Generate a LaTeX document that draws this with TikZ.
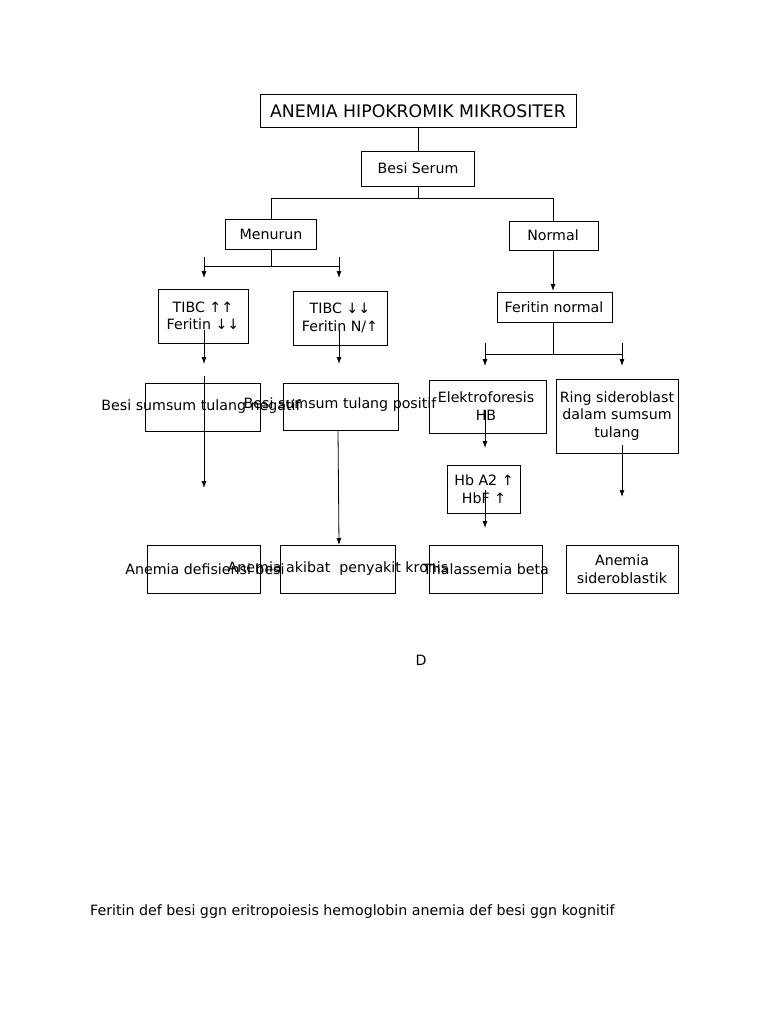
\documentclass[tikz,border=0pt]{standalone}
\usepackage{fontspec}
\setmainfont{DejaVu Sans}
\usetikzlibrary{arrows.meta}
\begin{document}
\begin{tikzpicture}[x=1pt,y=-1pt,
 box/.style={draw,line width=0.9pt},
 txt/.style={font=\fontsize{14.2}{17.5}\selectfont,align=center,inner sep=0},
 ln/.style={line width=0.8pt},
 ar/.style={line width=0.8pt,-{Latex[length=7pt,width=5pt]}}]
\useasboundingbox (0,0) rectangle (768,1024);
\fill[white] (0,0) rectangle (768,1024);
% boxes
\draw[box] (260,94) rectangle (576,127);
\node[txt,font=\fontsize{17.3}{20}\selectfont] (title) at (418,111) {ANEMIA HIPOKROMIK MIKROSITER};
\draw[box] (361,151) rectangle (474,186);
\node[txt] (bs) at (418,168) {Besi Serum};
\draw[box] (225,219) rectangle (316,249);
\node[txt] (men) at (271,234) {Menurun};
\draw[box] (509,221) rectangle (598,250);
\node[txt] (nor) at (553,235) {Normal};
\draw[box] (158,289) rectangle (248,343);
\node[txt] (t1) at (203,316) {TIBC ↑↑\\Feritin ↓↓};
\draw[box] (293,291) rectangle (387,345);
\node[txt] (t2) at (340,318) {TIBC ↓↓\\Feritin N/↑};
\draw[box] (145,383) rectangle (260,431);
\draw[box] (283,383) rectangle (398,430);
\node[txt] (neg) at (201,407) {Besi sumsum tulang negatif};
\node[txt] (pos) at (340,405) {Besi sumsum tulang positif};
\draw[box] (497,292) rectangle (612,322);
\node[txt] (fn) at (554,307) {Feritin normal};
\draw[box] (429,380) rectangle (546,433);
\node[txt] (el) at (486,406) {Elektroforesis\\HB};
\draw[box] (556,379) rectangle (678,453);
\node[txt] (ring) at (617,416) {Ring sideroblast\\dalam sumsum\\tulang};
\draw[box] (447,465) rectangle (520,513);
\node[txt] (hb) at (484,489) {Hb A2 ↑\\HbF ↑};
\draw[box] (147,545) rectangle (260,593);
\draw[box] (280,545) rectangle (395,593);
\draw[box] (429,545) rectangle (542,593);
\draw[box] (566,545) rectangle (678,593);
\node[txt] (adb) at (205,569) {Anemia defisiensi besi};
\node[txt] (apk) at (338,569) {Anemia akibat\ \ penyakit kronis};
\node[txt] (tb) at (486,569) {Thalassemia beta};
\node[txt] (as) at (622,569) {Anemia\\sideroblastik};
\node[txt] (d) at (421,660) {D};
\node[txt,anchor=west] (bot) at (90,912) {Feritin def besi ggn eritropoiesis hemoglobin anemia def besi ggn kognitif};
% connectors
\coordinate (c1) at (418,198);
\draw[ln] (418,127) -- (418,151);
\draw[ln] (418,186) -- (c1);
\draw[ln] (271,219) -- (271,198) -- (553,198) -- (553,221);
\draw[ln] (271,249) -- (271,266);
\draw[ln] (204,266) -- (339,266);
\draw[ar] (204,257) -- (204,278);
\draw[ar] (339,257) -- (339,278);
\draw[ar] (204,330) -- (204,364);
\draw[ar] (339,330) -- (339,364);
\draw[ar] (204,376) -- (204,488);
\draw[ar] (338,430) -- (339,545);
\draw[ar] (553,250) -- (553,291);
\draw[ln] (553,322) -- (553,354);
\draw[ln] (485,354) -- (622,354);
\draw[ar] (485,343) -- (485,366);
\draw[ar] (622,343) -- (622,366);
\draw[ar] (485,410) -- (485,448);
\draw[ar] (485,490) -- (485,528);
\draw[ar] (622,445) -- (622,497);
\end{tikzpicture}
\end{document}
